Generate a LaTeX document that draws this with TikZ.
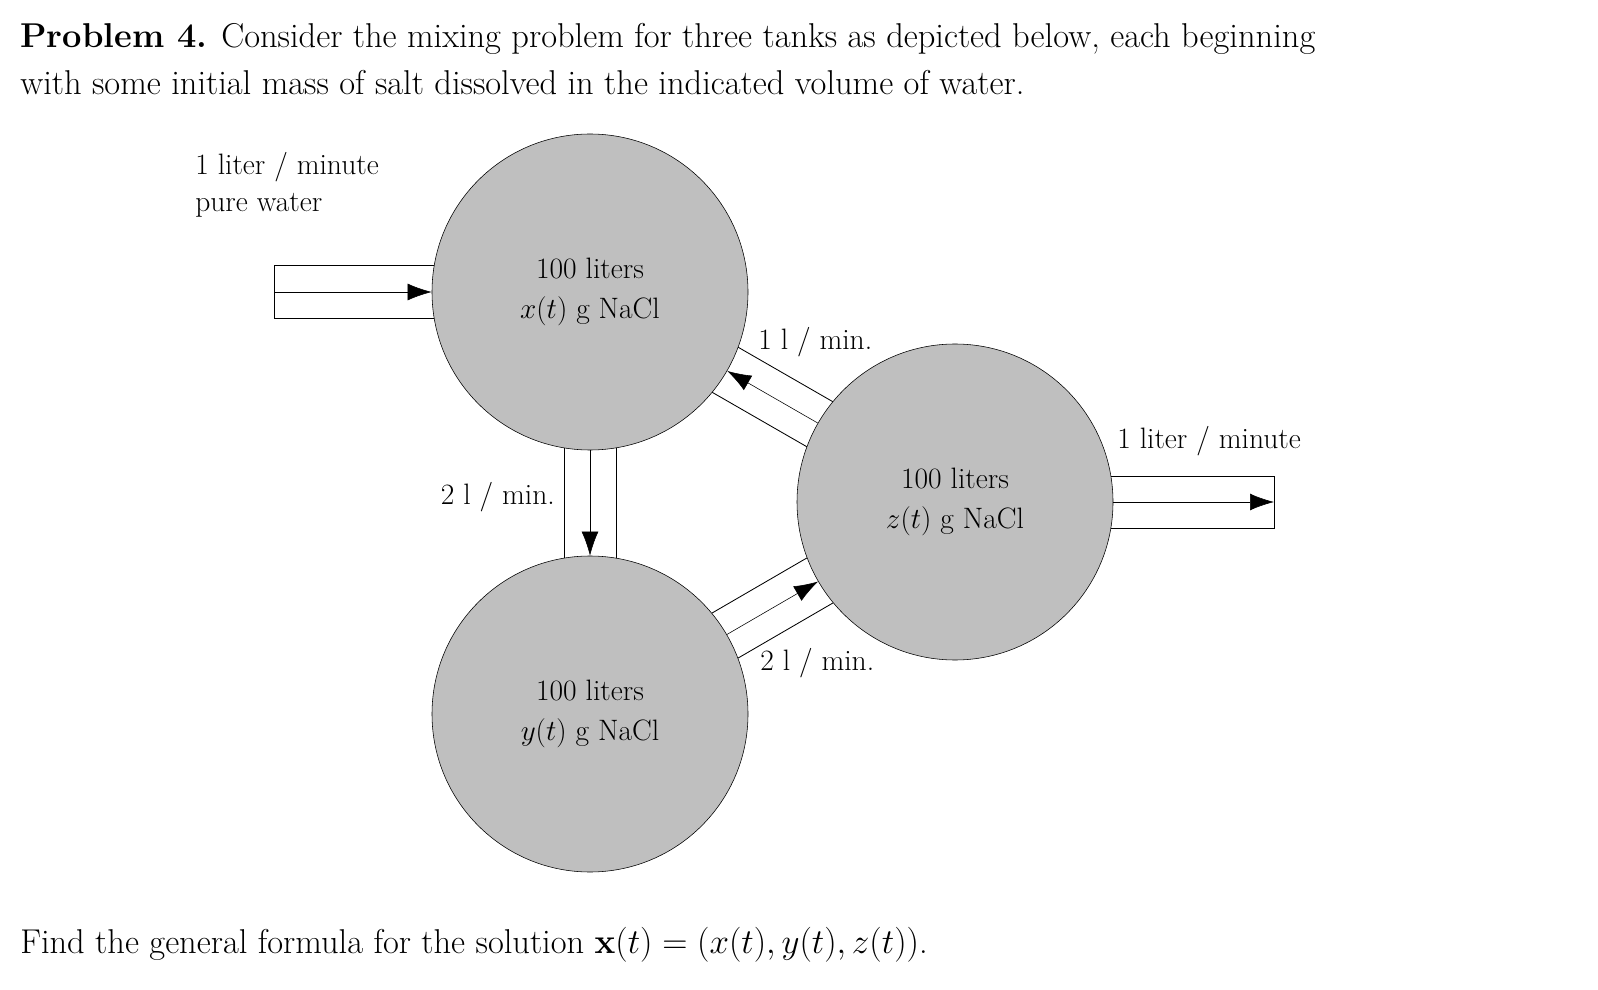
\documentclass[tikz,border=0pt]{standalone}
\usetikzlibrary{arrows.meta,calc}
\begin{document}
\begin{tikzpicture}[x=0.025cm,y=-0.025cm,
  tank/.style={circle,draw,fill=black!25,minimum size=316*0.025cm,inner sep=0pt,align=center,font=\fontsize{21}{28}\selectfont},
  lbl/.style={font=\fontsize{21}{28}\selectfont,inner sep=0pt},
  txt/.style={font=\fontsize{24.5}{30}\selectfont,inner sep=0pt,anchor=base west},
  flow/.style={-{Latex[length=0.6cm,width=0.42cm]}},
  pipe/.style={draw,line width=0.6pt}]
\useasboundingbox (0,0) rectangle (1598,990);
\node[txt] (t1) at (20,48) {\textbf{Problem 4.} Consider the mixing problem for three tanks as depicted below, each beginning};
\node[txt] (t2) at (20,95) {with some initial mass of salt dissolved in the indicated volume of water.};
\node[txt] (t3) at (20,953) {Find the general formula for the solution $\mathbf{x}(t)=(x(t),y(t),z(t))$.};
\coordinate (X) at (590,292);
\coordinate (Y) at (590,714);
\coordinate (Z) at (955,502);
\draw[pipe] ($(X)+(0,-27)$) -- (274,265) -- (274,318) -- ($(X)+(0,26)$);
\draw[pipe] ($(Z)+(0,-26)$) -- (1274,476) -- (1274,528) -- ($(Z)+(0,26)$);
\draw[pipe] ($(X)+(-26,0)$) -- ($(Y)+(-26,0)$);
\draw[pipe] ($(X)+(26,0)$) -- ($(Y)+(26,0)$);
\draw[pipe] ($(X)!0.65cm!90:(Z)$) -- ($(Z)!0.65cm!-90:(X)$);
\draw[pipe] ($(X)!0.65cm!-90:(Z)$) -- ($(Z)!0.65cm!90:(X)$);
\draw[pipe] ($(Y)!0.65cm!90:(Z)$) -- ($(Z)!0.65cm!-90:(Y)$);
\draw[pipe] ($(Y)!0.65cm!-90:(Z)$) -- ($(Z)!0.65cm!90:(Y)$);
\node[tank] (x) at (X) {100 liters\\$x(t)$ g NaCl};
\node[tank] (y) at (Y) {100 liters\\$y(t)$ g NaCl};
\node[tank] (z) at (Z) {100 liters\\$z(t)$ g NaCl};
\coordinate (in) at (274,292);
\coordinate (out) at (1274,502);
\draw[flow] (in) -- (x);
\draw[flow] (z) -- (out);
\draw[flow] (x) -- (y);
\draw[flow] (z) -- (x);
\draw[flow] (y) -- (z);
\node[lbl,anchor=base west,align=left] (l1) at (195,212) {1 liter / minute\\[-1pt]pure water};
\node[lbl,anchor=base west] (l2) at (758,350) {1 l / min.};
\node[lbl,anchor=base east] (l3) at (555,504) {2 l / min.};
\node[lbl,anchor=base west] (l4) at (760,670) {2 l / min.};
\node[lbl,anchor=base west] (l5) at (1117,448) {1 liter / minute};
\end{tikzpicture}
\end{document}
